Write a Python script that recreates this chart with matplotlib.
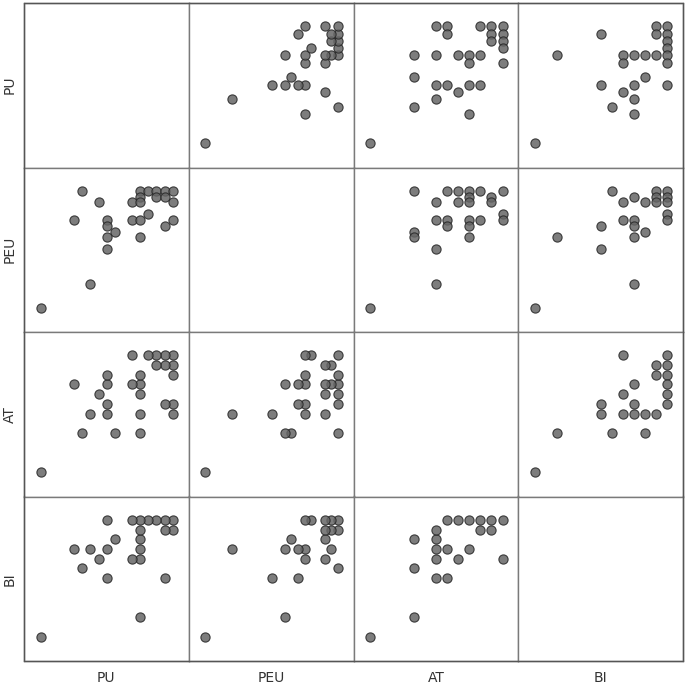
import matplotlib
matplotlib.use("Agg")
import matplotlib.pyplot as plt

# Variables (sum scores of Likert items, 1-5 each)
variables = ["PU", "PEU", "AT", "BI"]
n_items = {"PU": 4, "PEU": 5, "AT": 3, "BI": 3}

# Pairwise observed points (sum scores)
pu_peu_PU = [4, 10, 9, 11, 8, 12, 12, 13, 12, 12, 15, 16, 16, 16, 15, 16, 17, 16, 17, 18, 19, 20, 18, 19, 20, 20, 19]
pu_peu_PEU = [5, 9, 25, 23, 20, 20, 19, 18, 17, 15, 23, 25, 24, 23, 20, 20, 21, 17, 25, 25, 25, 25, 24, 24, 23, 20, 19]

pu_at_PU = [4, 9, 13, 16, 20, 20, 19, 16, 12, 10, 12, 16, 11, 16, 15, 12, 8, 16, 12, 20, 20, 19, 18, 20, 19, 18, 17, 15]
pu_at_AT = [3, 7, 7, 7, 9, 10, 10, 9, 9, 9, 10, 11, 11, 12, 12, 12, 12, 13, 13, 13, 14, 14, 14, 15, 15, 15, 15, 15]

pu_bi_PU = [4, 16, 19, 12, 9, 16, 15, 11, 16, 12, 10, 8, 16, 13, 16, 20, 19, 20, 19, 18, 17, 16, 15, 12]
pu_bi_BI = [3, 5, 9, 9, 10, 11, 11, 11, 12, 12, 12, 12, 13, 13, 14, 14, 14, 15, 15, 15, 15, 15, 15, 15]

peu_at_PEU = [5, 25, 18, 17, 23, 20, 15, 9, 25, 20, 19, 25, 23, 25, 24, 23, 20, 19, 17, 25, 20, 24, 23, 25, 21, 20]
peu_at_AT = [3, 7, 7, 7, 9, 9, 9, 9, 10, 10, 10, 11, 11, 12, 12, 12, 12, 12, 12, 13, 13, 14, 14, 15, 15, 15]

peu_bi_PEU = [5, 17, 19, 15, 25, 23, 20, 24, 20, 19, 17, 9, 23, 18, 25, 24, 23, 25, 24, 23, 21, 20]
peu_bi_BI = [3, 5, 9, 9, 10, 11, 11, 12, 12, 12, 12, 12, 13, 13, 14, 14, 14, 15, 15, 15, 15, 15]

at_bi_AT = [3, 7, 10, 9, 7, 15, 11, 9, 12, 10, 9, 9, 7, 14, 13, 9, 15, 14, 13, 12, 11, 10]
at_bi_BI = [3, 5, 9, 9, 10, 11, 11, 11, 12, 12, 12, 13, 13, 14, 14, 14, 15, 15, 15, 15, 15, 15]

pairs = {
    ("PU", "PEU"): (pu_peu_PU, pu_peu_PEU),
    ("PU", "AT"): (pu_at_PU, pu_at_AT),
    ("PU", "BI"): (pu_bi_PU, pu_bi_BI),
    ("PEU", "AT"): (peu_at_PEU, peu_at_AT),
    ("PEU", "BI"): (peu_bi_PEU, peu_bi_BI),
    ("AT", "BI"): (at_bi_AT, at_bi_BI),
}

W, H = 685, 687
fig = plt.figure(figsize=(W / 100, H / 100), dpi=100)
left_px, right_px, top_px, bottom_px = 24, 683, 3, 661
gs = fig.add_gridspec(4, 4, left=left_px / W, right=right_px / W,
                      top=1 - top_px / H, bottom=1 - bottom_px / H,
                      wspace=0, hspace=0)
pw = (right_px - left_px) / 4
ph = (bottom_px - top_px) / 4


def xlim_for(v):
    m = n_items[v]
    lo = m
    ppu = (149 - 16.7) / (4 * m)
    return (lo - 16.7 / ppu, lo + (pw - 16.7) / ppu)


def ylim_for(v):
    m = n_items[v]
    lo = m
    ppu = (140 - 23.3) / (4 * m)
    return (lo - (ph - 140) / ppu, lo + 140 / ppu)


def get_xy(xv, yv):
    if (xv, yv) in pairs:
        a, b = pairs[(xv, yv)]
        return a, b
    a, b = pairs[(yv, xv)]
    return b, a


for i, rv in enumerate(variables):
    for j, cv in enumerate(variables):
        ax = fig.add_subplot(gs[i, j])
        ax.set_xlim(*xlim_for(cv))
        ax.set_ylim(*ylim_for(rv))
        ax.set_xticks([])
        ax.set_yticks([])
        for s in ax.spines.values():
            s.set_color("#7a7a7a")
            s.set_linewidth(1.0)
        if i != j:
            x, y = get_xy(cv, rv)
            ax.scatter(x, y, s=44, facecolor="#666666", edgecolor="#262626",
                       linewidths=0.8, alpha=0.85, zorder=3)

# outer frame
fig.patches.append(plt.Rectangle((left_px / W, 1 - bottom_px / H),
                                 (right_px - left_px) / W, (bottom_px - top_px) / H,
                                 transform=fig.transFigure, fill=False,
                                 edgecolor="#555555", linewidth=1.0, zorder=10))

for k, v in enumerate(variables):
    cy = top_px + ph * (k + 0.5)
    fig.text(10 / W, 1 - cy / H, v, rotation=90, ha="center", va="center",
             fontsize=10, color="#333333")
    cx = left_px + pw * (k + 0.5)
    fig.text(cx / W, 1 - 678 / H, v, ha="center", va="center",
             fontsize=10, color="#333333")

fig.savefig("out.png", dpi=100)
